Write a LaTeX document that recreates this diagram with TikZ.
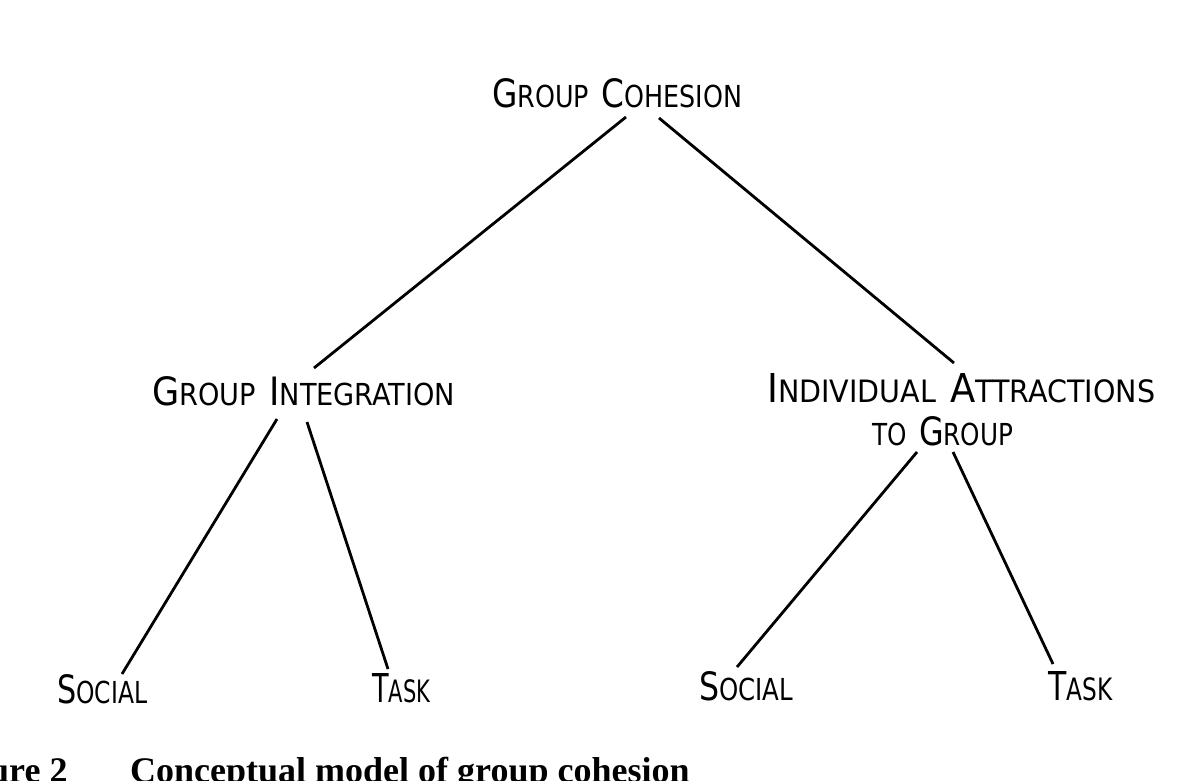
\documentclass[tikz,border=0pt]{standalone}
\usepackage{fontspec}
\usepackage{graphicx}
\setmainfont{DejaVu Sans Condensed}
\newfontfamily\capfont{Liberation Serif}
\newcommand{\B}[1]{{\fontsize{40}{40}\selectfont #1}}
\newcommand{\Sm}[1]{{\fontsize{31}{31}\selectfont #1}}
\newcommand{\Gap}{\hspace{14pt}}
\newcommand{\Lbl}[2]{\resizebox{#1pt}{29pt}{#2}}
\begin{document}
\begin{tikzpicture}[x=1pt,y=-1pt,
  lbl/.style={inner sep=0pt,anchor=base west},
  ln/.style={line width=2.8pt}]
\path[use as bounding box] (0,0) rectangle (1190,780);
\clip (0,0) rectangle (1190,780);
\node[lbl] (gc) at (492,107) {\Lbl{250}{\B{G}\Sm{ROUP}\Gap\B{C}\Sm{OHESION}}};
\node[lbl] (gi) at (152,405) {\Lbl{303}{\B{G}\Sm{ROUP}\Gap\B{I}\Sm{NTEGRATION}}};
\node[lbl] (ia) at (767,402) {\Lbl{388}{\B{I}\Sm{NDIVIDUAL}\Gap\B{A}\Sm{TTRACTIONS}}};
\node[lbl] (tg) at (872,445) {\Lbl{141}{\Sm{TO}\Gap\B{G}\Sm{ROUP}}};
\node[lbl] (s1) at (57,703) {\Lbl{90}{\B{S}\Sm{OCIAL}}};
\node[lbl] (t1) at (372,702) {\Lbl{58}{\B{T}\Sm{ASK}}};
\node[lbl] (s2) at (699,700) {\Lbl{94}{\B{S}\Sm{OCIAL}}};
\node[lbl] (t2) at (1048,700) {\Lbl{64}{\B{T}\Sm{ASK}}};
\coordinate (a1) at (626,117); \coordinate (b1) at (314,368);
\coordinate (a2) at (659,118); \coordinate (b2) at (954,363);
\coordinate (a3) at (277,419); \coordinate (b3) at (122,674);
\coordinate (a4) at (307,422); \coordinate (b4) at (388,669);
\coordinate (a5) at (917,452); \coordinate (b5) at (737,667);
\coordinate (a6) at (953,452); \coordinate (b6) at (1053,664);
\draw[ln] (a1) -- (b1);
\draw[ln] (a2) -- (b2);
\draw[ln] (a3) -- (b3);
\draw[ln] (a4) -- (b4);
\draw[ln] (a5) -- (b5);
\draw[ln] (a6) -- (b6);
\node[lbl] (cap) at (-61,782) {\capfont\bfseries\fontsize{36}{36}\selectfont Figure 2};
\node[lbl] (cap2) at (130,782) {\capfont\bfseries\fontsize{36}{36}\selectfont Conceptual model of group cohesion};
\end{tikzpicture}
\end{document}
